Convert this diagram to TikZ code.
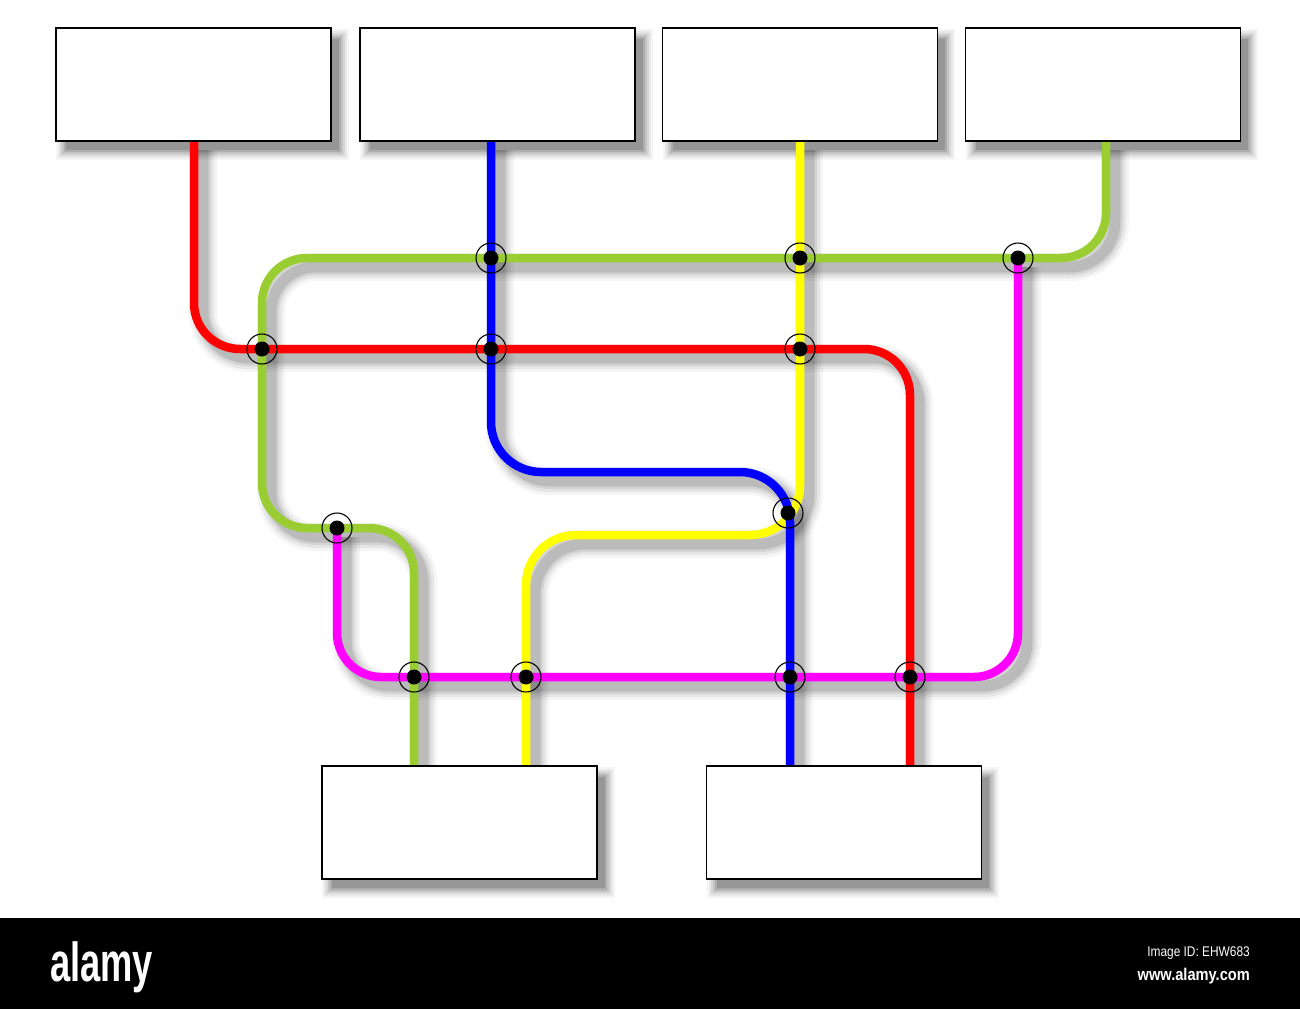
\documentclass[tikz,border=0pt]{standalone}
\usepackage{fontspec}
\newfontfamily\lib{Liberation Sans}
\definecolor{cRed}{RGB}{255,0,0}
\definecolor{cGreen}{RGB}{154,205,50}
\definecolor{cBlue}{RGB}{0,0,255}
\definecolor{cYellow}{RGB}{255,255,0}
\definecolor{cMag}{RGB}{255,0,255}
\newcommand\pRed[1]{\draw[rounded corners=46pt,#1] (194,141) -- (194,349) -- (910,349) -- (910,766);}
\newcommand\pGreen[1]{\draw[rounded corners=45pt,#1] (1106,141) -- (1106,258) -- (262,258) -- (262,528) -- (414,528) -- (414,766);}
\newcommand\pBlue[1]{\draw[rounded corners=50pt,#1] (491,141) -- (491,472) -- (790,472) -- (790,766);}
\newcommand\pYellow[1]{\draw[rounded corners=50pt,#1] (800,141) -- (800,535) -- (526,535) -- (526,766);}
\newcommand\pMag[1]{\draw[rounded corners=44pt,#1] (1018,258) -- (1018,677) -- (337,677) -- (337,528);}
\newcommand\boxshadow[4]{%
  \foreach \e/\o in {9/0.04,7/0.05,5/0.07,3/0.09,1/0.11,-1/0.13}{%
    \fill[black,opacity=\o] (#1+9-\e,#2+10-\e) rectangle (#3+9+\e,#4+10+\e);}}
\begin{document}
\begin{tikzpicture}[x=1pt,y=-1pt,
  box/.style={draw=black,line width=1.2pt,fill=white,minimum width=275pt,minimum height=113pt,inner sep=0pt},
  metro/.style={line width=8.5pt},
  ring/.style={draw=black,line width=1.1pt,circle,minimum size=30pt,inner sep=0pt},
  dot/.style={fill=black,circle,minimum size=15pt,inner sep=0pt}]
\useasboundingbox (0,0) rectangle (1300,1009);
\fill[white] (0,0) rectangle (1300,1009);
% shadows of lines
\foreach \w/\o in {28/0.04,22/0.06,16/0.08,11/0.11}{
  \pRed{line width=\w pt,black,opacity=\o,shift={(9,9)}}
  \pGreen{line width=\w pt,black,opacity=\o,shift={(9,9)}}
  \pBlue{line width=\w pt,black,opacity=\o,shift={(9,9)}}
  \pYellow{line width=\w pt,black,opacity=\o,shift={(9,9)}}
  \pMag{line width=\w pt,black,opacity=\o,shift={(9,9)}}
}
% shadows of boxes
\boxshadow{56}{28}{331}{141}
\boxshadow{360}{28}{635}{141}
\boxshadow{663}{28}{937}{141}
\boxshadow{966}{28}{1240}{141}
\boxshadow{322}{766}{597}{879}
\boxshadow{707}{766}{981}{879}
% lines
\pMag{metro,cMag}
\pRed{metro,cRed}
\pYellow{metro,cYellow}
\pBlue{metro,cBlue}
\pGreen{metro,cGreen}
% boxes
\node[box] (b1) at (193.5,84.5) {};
\node[box] (b2) at (497.5,84.5) {};
\node[box] (b3) at (800,84.5) {};
\node[box] (b4) at (1103,84.5) {};
\node[box] (b5) at (459.5,822.5) {};
\node[box] (b6) at (844,822.5) {};
% junctions
\foreach \n/\x/\y in {j1/491/258,j2/800/258,j3/1018/258,j4/262/349,j5/491/349,j6/800/349,j7/337/528,j8/788/513,j9/414/677,j10/526/677,j11/790/677,j12/910/677}{
  \node[ring] (\n r) at (\x,\y) {};
  \node[dot] (\n) at (\x,\y) {};
}
% bottom bar
\fill[black] (0,918) rectangle (1300,1009);
\node[anchor=base west,inner sep=0pt,text=white] (logo) at (50,981)
  {\scalebox{0.66}[1]{\lib\bfseries\fontsize{55}{55}\selectfont alamy}};
\node[anchor=base east,inner sep=0pt,text=white] (imgid) at (1250,956)
  {\scalebox{0.85}[1]{\lib\fontsize{14}{14}\selectfont Image ID: EHW683}};
\node[anchor=base east,inner sep=0pt,text=white] (url) at (1250,980)
  {\scalebox{0.86}[1]{\lib\bfseries\fontsize{17}{17}\selectfont www.alamy.com}};
\end{tikzpicture}
\end{document}
